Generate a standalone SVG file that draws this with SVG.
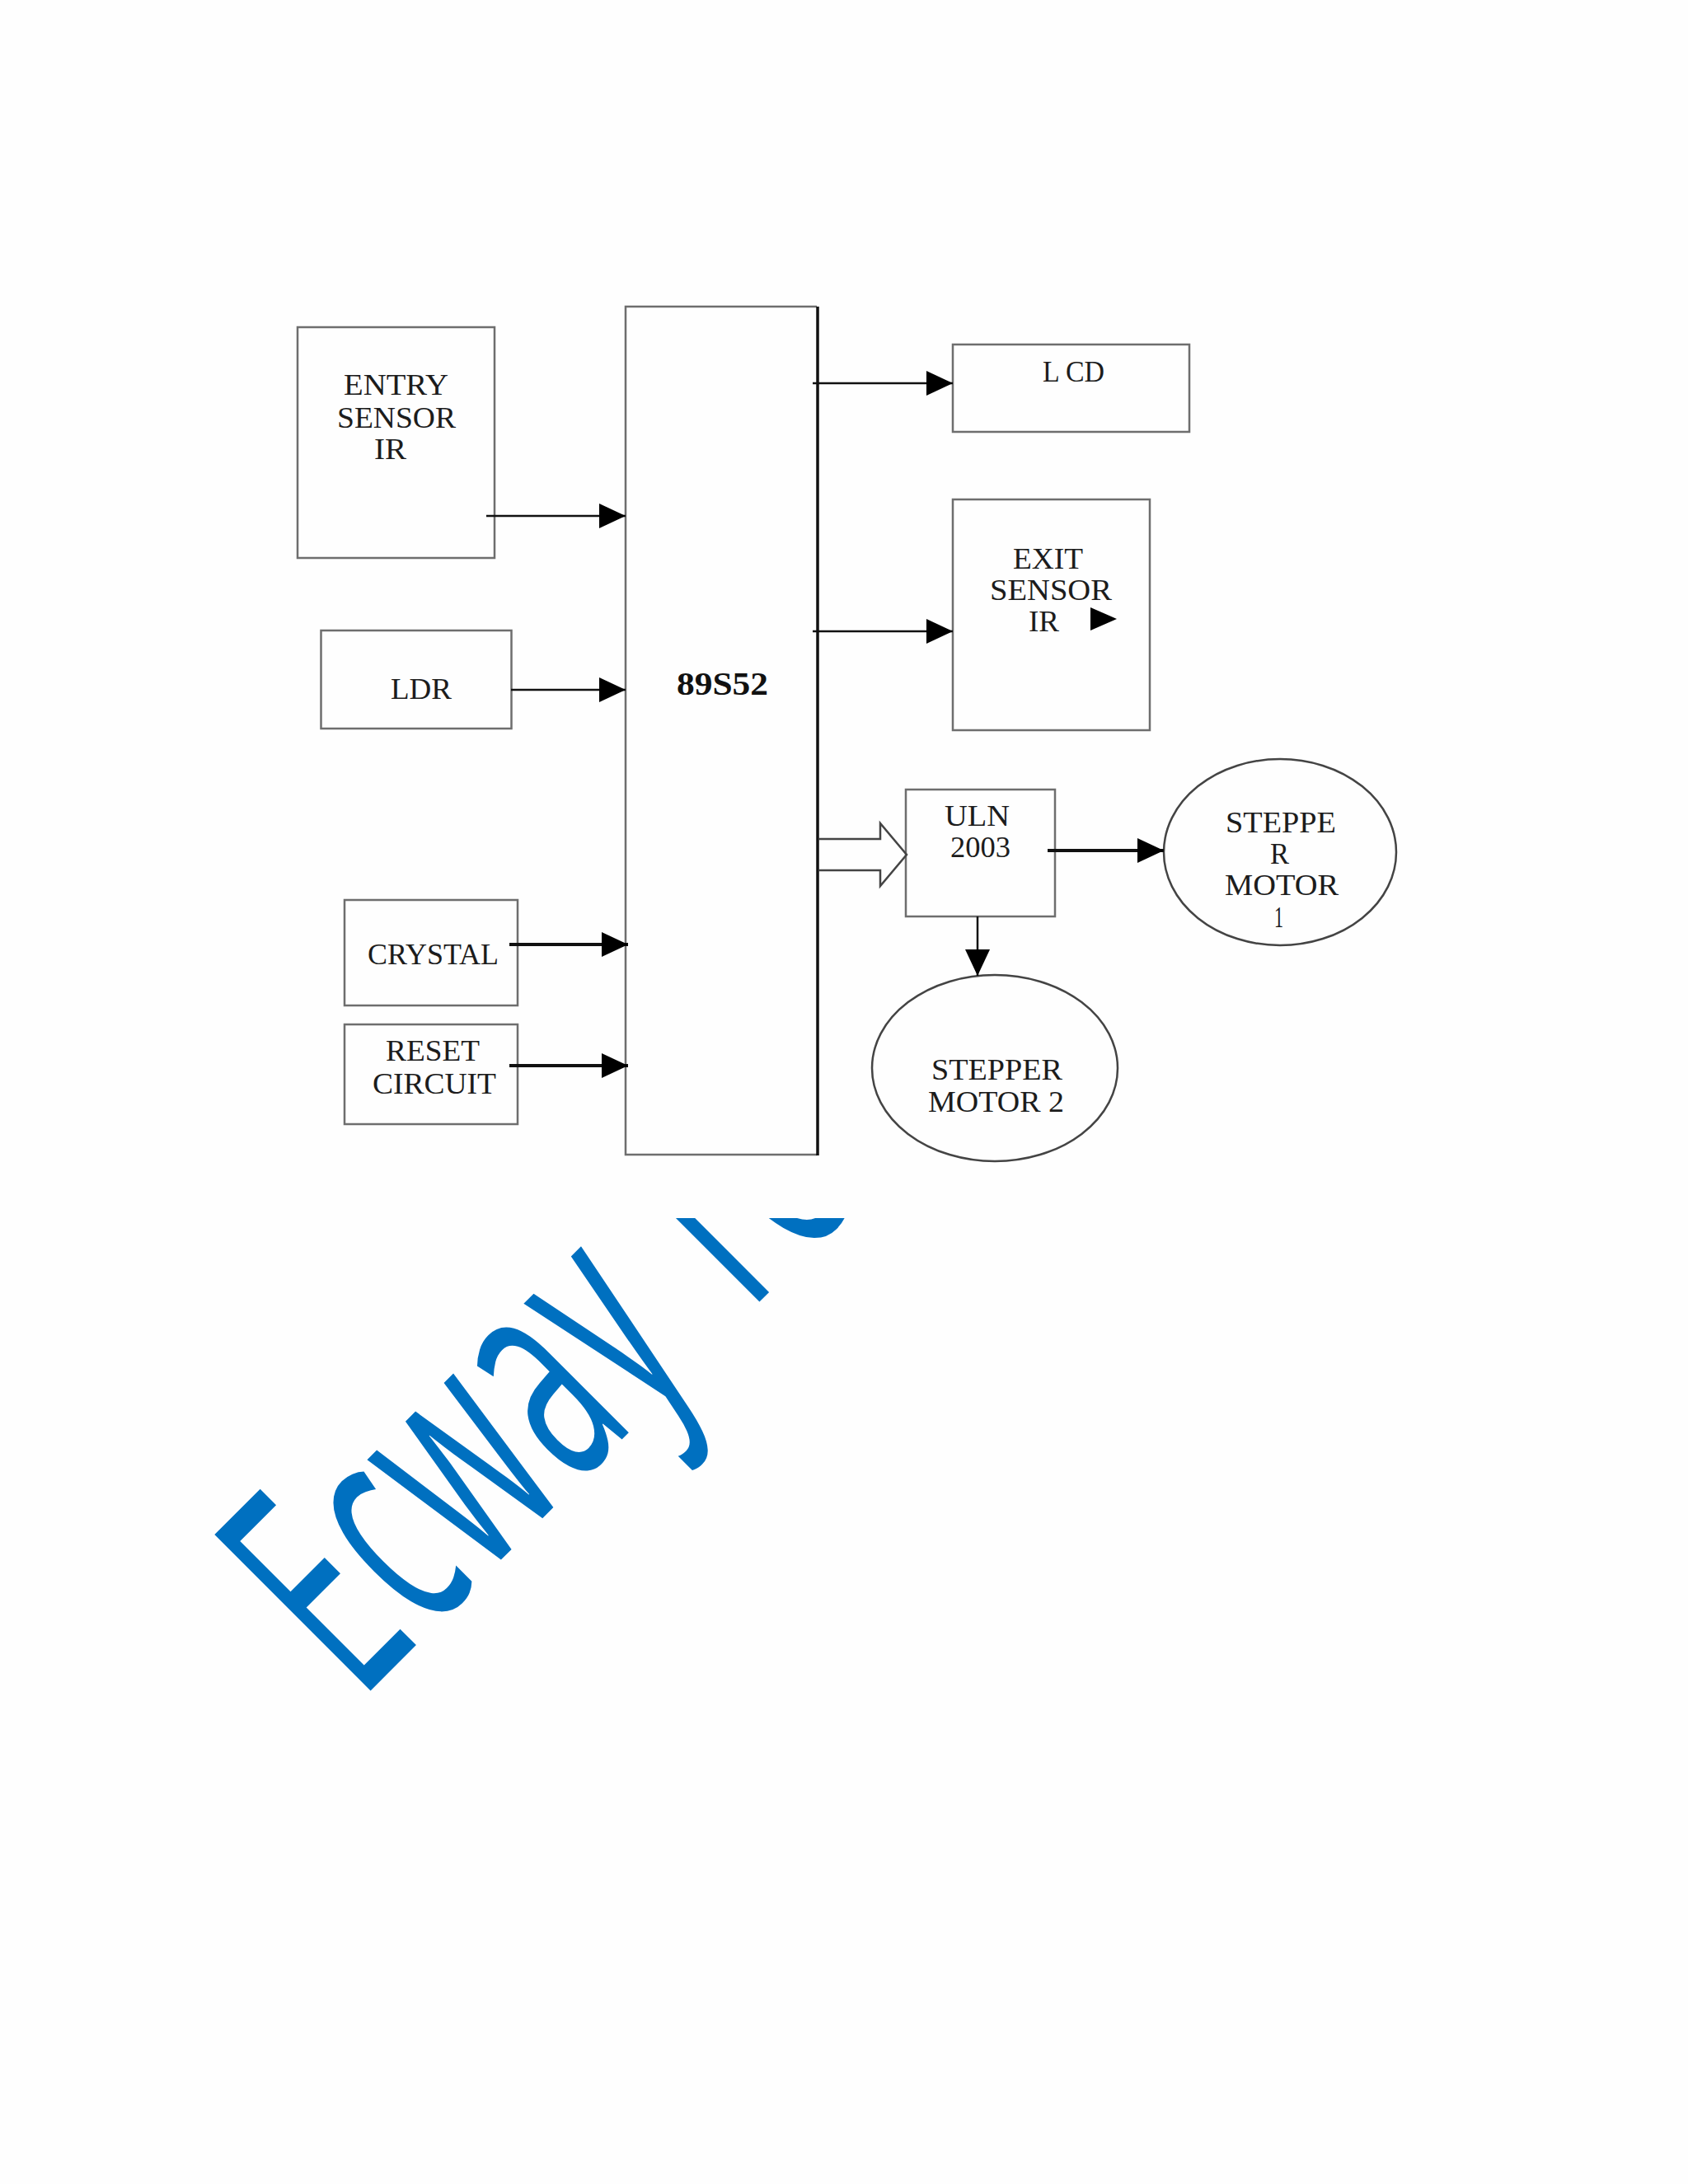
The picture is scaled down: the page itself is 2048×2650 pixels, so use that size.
<svg xmlns="http://www.w3.org/2000/svg" width="2048" height="2650" viewBox="0 0 2048 2650">
<defs>
<style>
.box{fill:none;stroke:#6e6e6e;stroke-width:2.5}
.el{fill:none;stroke:#444;stroke-width:2.5}
.t{font-family:"Liberation Serif","Times New Roman",serif;font-size:35px;fill:#1c1c1c}
.b{font-weight:bold;font-size:39px;fill:#111}
.c{fill:none;stroke:#111;stroke-width:2.5}
.c2{fill:none;stroke:#111;stroke-width:4}
.head{marker-end:url(#ah)}
.hol{fill:none;stroke:#444;stroke-width:2.5}
</style>
<marker id="ah" markerUnits="userSpaceOnUse" markerWidth="34" markerHeight="32" refX="32" refY="15" orient="auto"><path d="M0 0L32 15L0 30Z" fill="#000"/></marker>
<clipPath id="wm"><rect x="0" y="1478" width="2048" height="1172"/></clipPath>
</defs>
<rect width="2048" height="2650" fill="#fefefe"/>
<g id="watermark" clip-path="url(#wm)">
<text transform="translate(436 2065) rotate(-45) scale(.525 1)" font-family="Open Sans,sans-serif" font-size="375" letter-spacing="8" fill="#0070c0">Ecway Te</text>
</g>
<g id="n-entry"><rect class="box" x="361" y="397" width="239" height="280"/>
<text class="t" x="417" y="479" textLength="127" lengthAdjust="spacingAndGlyphs">ENTRY</text>
<text class="t" x="409" y="519" textLength="144" lengthAdjust="spacingAndGlyphs">SENSOR</text>
<text class="t" x="454" y="557" textLength="39" lengthAdjust="spacingAndGlyphs">IR</text></g>
<g id="n-ldr"><rect class="box" x="389.500" y="765" width="231" height="119"/>
<text class="t" x="474" y="848" textLength="74" lengthAdjust="spacingAndGlyphs">LDR</text></g>
<g id="n-crystal"><rect class="box" x="418" y="1092" width="210" height="128"/>
<text class="t" x="446" y="1170" textLength="159" lengthAdjust="spacingAndGlyphs">CRYSTAL</text></g>
<g id="n-reset"><rect class="box" x="418" y="1243" width="210" height="121"/>
<text class="t" x="468" y="1287" textLength="114" lengthAdjust="spacingAndGlyphs">RESET</text>
<text class="t" x="452" y="1327" textLength="150" lengthAdjust="spacingAndGlyphs">CIRCUIT</text></g>
<g id="n-mcu"><path class="box" d="M991 372H759V1401H991"/><path fill="none" stroke="#111" stroke-width="3.5" d="M992 372V1402"/>
<text class="t b" x="821" y="843" textLength="111" lengthAdjust="spacingAndGlyphs">89S52</text></g>
<g id="n-lcd"><rect class="box" x="1156" y="418" width="287" height="106"/>
<text class="t" x="1265" y="463" textLength="75" lengthAdjust="spacingAndGlyphs">L CD</text></g>
<g id="n-exit"><rect class="box" x="1156" y="606" width="239" height="280"/>
<text class="t" x="1229" y="690" textLength="85" lengthAdjust="spacingAndGlyphs">EXIT</text>
<text class="t" x="1201" y="728" textLength="148" lengthAdjust="spacingAndGlyphs">SENSOR</text>
<text class="t" x="1248" y="766" textLength="37" lengthAdjust="spacingAndGlyphs">IR</text>
<path d="M1323 737L1355 751L1323 765Z" fill="#000"/></g>
<g id="n-uln"><rect class="box" x="1099" y="958" width="181" height="154"/>
<text class="t" x="1146" y="1002" textLength="79" lengthAdjust="spacingAndGlyphs">ULN</text>
<text class="t" x="1153" y="1040" textLength="73" lengthAdjust="spacingAndGlyphs">2003</text></g>
<g id="n-motor1"><ellipse class="el" cx="1553" cy="1034" rx="141" ry="113"/>
<text class="t" x="1487" y="1010" textLength="134" lengthAdjust="spacingAndGlyphs">STEPPE</text>
<text class="t" x="1541" y="1048" textLength="23" lengthAdjust="spacingAndGlyphs">R</text>
<text class="t" x="1486" y="1086" textLength="138" lengthAdjust="spacingAndGlyphs">MOTOR</text>
<text class="t" x="1546" y="1125" textLength="11" lengthAdjust="spacingAndGlyphs">1</text></g>
<g id="n-motor2"><ellipse class="el" cx="1207" cy="1296" rx="149" ry="113"/>
<text class="t" x="1130" y="1310" textLength="159" lengthAdjust="spacingAndGlyphs">STEPPER</text>
<text class="t" x="1126" y="1349" textLength="165" lengthAdjust="spacingAndGlyphs">MOTOR 2</text></g>
<g id="connectors">
<path class="c head" d="M590 626H759"/>
<path class="c head" d="M620 837H759"/>
<path class="c2 head" d="M618 1146H762"/>
<path class="c2 head" d="M618 1293H762"/>
<path class="c head" d="M986 465H1156"/>
<path class="c head" d="M986 766H1156"/>
<path class="c2 head" d="M1271 1032H1412"/>
<path class="c head" d="M1186 1112V1184" stroke="#444"/>
<path class="hol" d="M993 1018H1068V999L1100 1037L1068 1075V1056H993"/>
</g>
</svg>
